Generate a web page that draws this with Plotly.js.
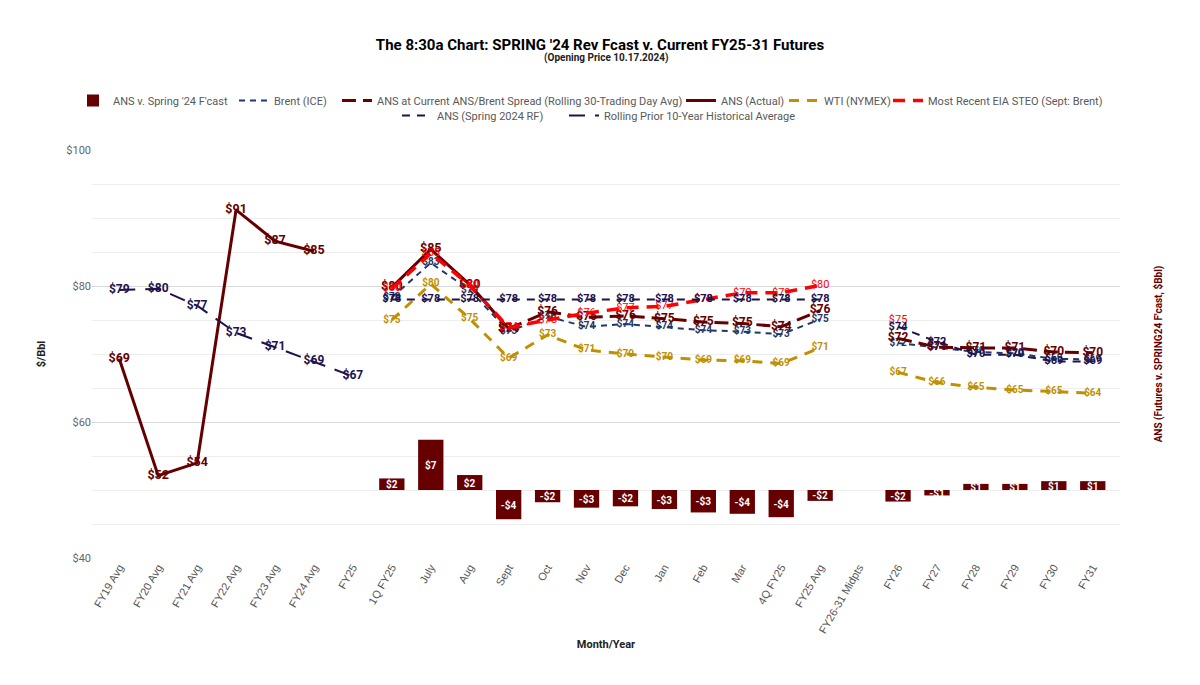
<!DOCTYPE html>
<html>
<head>
<meta charset="utf-8">
<script src="https://cdn.plot.ly/plotly-3.0.1.min.js"></script>
<style>html,body{margin:0;padding:0;background:#fff;}#chart{width:1200px;height:685px;}</style>
</head>
<body>
<div id="chart"></div>
<script>
const categories = ['FY19 Avg','FY20 Avg','FY21 Avg','FY22 Avg','FY23 Avg','FY24 Avg','FY25','1Q FY25','July','Aug','Sept','Oct','Nov','Dec','Jan','Feb','Mar','4Q FY25','FY25 Avg','FY26-31 Midpts','FY26','FY27','FY28','FY29','FY30','FY31'];

const ansVsSpring = [null,null,null,null,null,null,null, 1.7, 7.4, 2.2, -4.3, -1.8, -2.6, -2.4, -2.8, -3.3, -3.5, -4.0, -1.6, null, -1.7, -0.8, 0.9, 0.9, 1.3, 1.3];
const brentICE = [null,null,null,null,null,null,null, 78.3, 83.4, 79.4, 73.3, 75.5, 74.0, 74.4, 74.0, 73.5, 73.3, 72.9, 75.1, null, 71.6, 70.9, 70.3, 70.1, 69.3, 69.2];
const ansCurrentSpread = [null,null,null,null,null,null,null, null, null, null, 73.7, 76.2, 75.4, 75.6, 75.2, 74.7, 74.5, 74.0, 76.4, null, 72.3, 71.0, 70.9, 70.9, 70.3, 70.2];
const ansActual = [69.3, 52.1, 54.0, 91.2, 86.6, 85.1, null, 79.8, 85.4, 80.2, 73.7, null,null,null,null,null,null,null,null,null,null,null,null,null,null,null];
const wtiNymex = [null,null,null,null,null,null,null, 75.0, 80.3, 75.2, 69.4, 72.8, 70.6, 70.0, 69.5, 69.1, 69.0, 68.6, 70.9, null, 67.3, 65.8, 65.1, 64.7, 64.5, 64.2];
const eiaSteo = [null,null,null,null,null,null,null, 79.6, 84.8, 80.1, 73.9, 75.0, 76.0, 76.8, 77.0, 78.0, 79.0, 79.0, 80.1, null, 75.0, null,null,null,null,null];
const ansSpring2024RF = [null,null,null,null,null,null,null, 78, 78, 78, 78, 78, 78, 78, 78, 78, 78, 78, 78, null, 74.0, 71.8, 69.9, 69.9, 68.9, 68.9];
const rolling10Yr = [79.4, 79.6, 77.1, 73.1, 71.0, 68.9, 66.7, null,null,null,null,null,null,null,null,null,null,null,null,null,null,null,null,null,null,null];

function lbl(arr){ return arr.map(v => v===null ? '' : (v<0 ? '-$'+Math.round(-v) : '$'+Math.round(v))); }

const F = 'Roboto, "Noto Sans", sans-serif';

function line(name, y, color, width, dash, tsize, weight, legend){
  return {type:'scatter', mode:'lines+text', name:name, x:categories, y:y, text:lbl(y),
    textposition:'middle center', textfont:{family:F, size:tsize, color:color, weight:weight},
    line:{color:color, width:width, dash:dash}, connectgaps:false, cliponaxis:false, hoverinfo:'skip',
    legend: legend};
}

const traces = [
  {type:'bar', name:"ANS v. Spring '24 F'cast", x:categories, y:ansVsSpring, yaxis:'y2',
   marker:{color:'#660000'}, width:0.65, text:lbl(ansVsSpring), textposition:'inside',
   insidetextanchor:'middle', textangle:0, constraintext:'none',
   textfont:{family:F, size:10, color:'#ffffff', weight:'bold'}, hoverinfo:'skip', legend:'legend'},
  line('Brent (ICE)', brentICE, '#1f3864', 2, '6px,5px', 10, 'bold', 'legend2'),
  line('ANS at Current ANS/Brent Spread (Rolling 30-Trading Day Avg)', ansCurrentSpread, '#660000', 3, '14px,7px', 12, 'bold', 'legend3'),
  line('ANS (Actual)', ansActual, '#660000', 3, 'solid', 12.5, 'bold', 'legend4'),
  line('WTI (NYMEX)', wtiNymex, '#bf9000', 3, '10px,8px', 10, 'bold', 'legend5'),
  line('Most Recent EIA STEO (Sept: Brent)', eiaSteo, '#ff0000', 3.5, '12px,8px', 11, 'normal', 'legend6'),
  line('ANS (Spring 2024 RF)', ansSpring2024RF, '#20124d', 2, '8px,7px', 11, 'bold', 'legend7'),
  line('Rolling Prior 10-Year Historical Average', rolling10Yr, '#20124d', 2, '16px,10px', 12, 'bold', 'legend8')
];

// legend text start (px) for each entry and its row
const legendTextX = [115, 276, 379, 723, 826, 930, 439, 606];
const legendRow   = [0, 0, 0, 0, 0, 0, 1, 1];

const layout = {
  width:1200, height:685,
  margin:{l:92, r:80, t:150, b:127},
  paper_bgcolor:'#ffffff', plot_bgcolor:'#ffffff',
  font:{family:F, color:'#333'},
  title:{text:"<b>The 8:30a Chart: SPRING '24 Rev Fcast v. Current FY25-31 Futures</b>",
    font:{family:F, size:15, color:'#000'}, x:0.5, xanchor:'center', y:0.934, yanchor:'middle'},
  annotations:[{text:'<b>(Opening Price 10.17.2024)</b>', xref:'paper', yref:'paper', x:0.5, y:1.0 + (150-58)/408,
    xanchor:'center', yanchor:'middle', showarrow:false, font:{family:F, size:10, color:'#222'}}],
  showlegend:true,
  xaxis:{type:'category', categoryorder:'array', categoryarray:categories, range:[-0.7, 25.7],
    tickangle:-60, tickfont:{family:'"Liberation Sans", Arial, sans-serif', size:11, color:'#555'},
    showgrid:false, zeroline:false, showline:false, ticks:'',
    title:{text:'<b>Month/Year</b>', font:{family:F, size:11, color:'#222'}, standoff:5}},
  yaxis:{range:[40,100], dtick:20, tick0:40, tickprefix:'$', gridcolor:'#d9d9d9', gridwidth:1,
    minor:{dtick:5, showgrid:true, gridcolor:'#eeeeee'},
    zeroline:false, showline:false, ticks:'',
    tickfont:{family:F, size:11, color:'#666'},
    title:{text:'<b>$/Bbl</b>', font:{family:F, size:11, color:'#222'}, standoff:18}},
  yaxis2:{overlaying:'y', side:'right', range:[-10,50], showgrid:false, zeroline:false,
    showticklabels:false, ticks:'',
    title:{text:"<b>ANS (Futures v. SPRING24 F'cast, $Bbl)</b>", font:{family:F, size:10, color:'#660000'}, standoff:34}},
  bargap:0.35
};

const plotL = 92, plotW = 1028, plotB = 558, plotH = 408;
const rowTop = [86, 101];
legendTextX.forEach((tx, i) => {
  const key = i === 0 ? 'legend' : 'legend' + (i + 1);
  layout[key] = {orientation:'h', xanchor:'left', yanchor:'top', itemwidth:30,
    x:(tx - 42 - plotL) / plotW, y:(plotB - rowTop[legendRow[i]]) / plotH,
    font:{family:F, size:11, color:'#595959'}, bgcolor:'rgba(0,0,0,0)', borderwidth:0};
});

Plotly.newPlot('chart', traces, layout, {displayModeBar:false, staticPlot:true});
</script>
</body>
</html>
